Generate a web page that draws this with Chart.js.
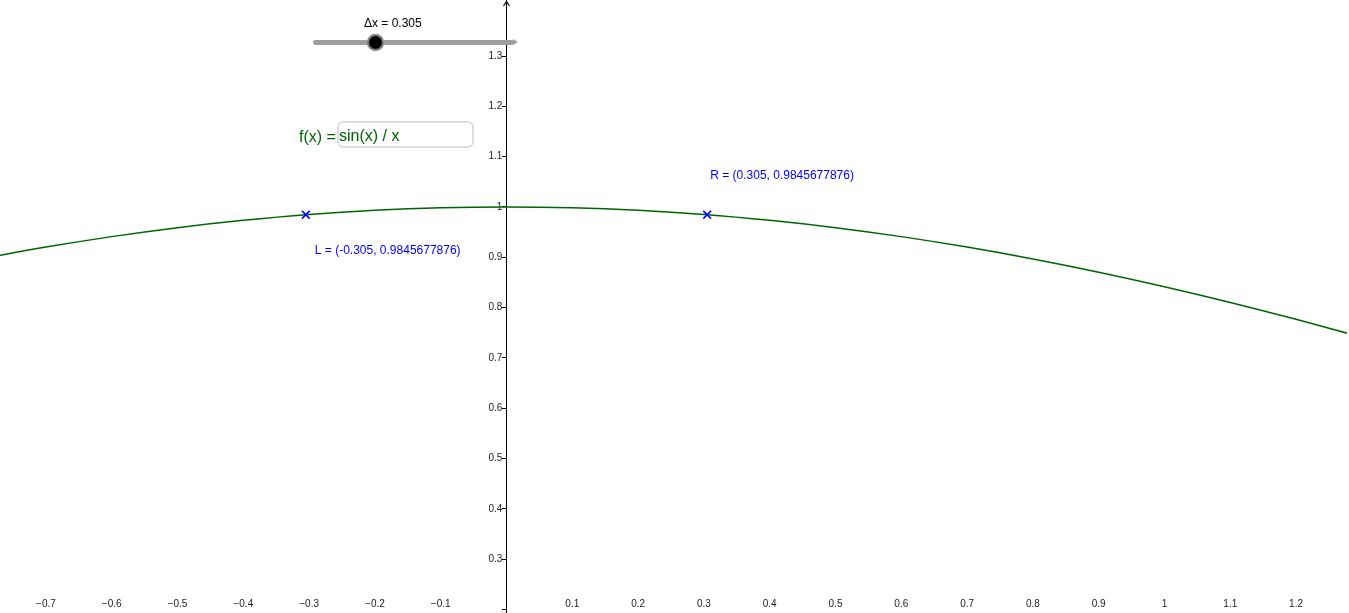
<!DOCTYPE html>
<html>
<head>
<meta charset="utf-8">
<title>f(x) = sin(x) / x</title>
<script src="https://cdn.jsdelivr.net/npm/chart.js@4"></script>
<style>
    html, body { margin: 0; padding: 0; background: #fff; overflow: hidden; }
    body { width: 1349px; height: 613px; position: relative; font-family: "Liberation Sans", Arial, sans-serif; }
    canvas { position: absolute; left: 0; top: 0; }
    .ui { position: absolute; white-space: nowrap; }
    #sliderLabel { left: 364px; top: 16px; font-size: 12px; line-height: 14px; color: #000; }
    #sliderTrack { left: 313px; top: 40px; width: 201px; height: 5px; background: #9e9e9e; border-radius: 3px; }
    #sliderTip { left: 513px; top: 39px; width: 0; height: 0; border-left: 5px solid #9e9e9e; border-top: 3.5px solid transparent; border-bottom: 3.5px solid transparent; }
    #sliderKnob { left: 366.5px; top: 33.5px; width: 13px; height: 13px; background: #000; border: 2.5px solid #808080; border-radius: 50%; box-shadow: 0 0 1px #aaa; }
    #fxLabel { left: 299px; top: 127px; font-size: 16px; line-height: 19px; color: #006400; }
    #fxBox { left: 337px; top: 121px; width: 133px; height: 23px; border: 2px solid #ddd; border-radius: 6px; font-size: 16px; line-height: 26px; color: #006400; }
</style>
</head>
<body>
<canvas id="chart" width="1347" height="613"></canvas>
<div class="ui" id="sliderLabel">Δx = 0.305</div>
<div class="ui" id="sliderTrack"></div>
<div class="ui" id="sliderTip"></div>
<div class="ui" id="sliderKnob"></div>
<div class="ui" id="fxLabel">f(x) =</div>
<div class="ui" id="fxBox">sin(x) / x</div>
<script>
const curveX = [-0.8, -0.7, -0.6, -0.5, -0.4, -0.3, -0.2, -0.1, 0, 0.1, 0.2, 0.3, 0.4, 0.5, 0.6, 0.7, 0.8, 0.9, 1, 1.1, 1.2, 1.3];
const curveY = [0.8967, 0.9203, 0.9411, 0.9589, 0.9735, 0.9851, 0.9933, 0.9983, 1, 0.9983, 0.9933, 0.9851, 0.9735, 0.9589, 0.9411, 0.9203, 0.8967, 0.8704, 0.8415, 0.8102, 0.7767, 0.7412];

const pointX = [-0.305, 0.305];
const pointY = [0.9845677876, 0.9845677876];
const pointLabels = ['L = (-0.305, 0.9845677876)', 'R = (0.305, 0.9845677876)'];

const xTicks = [-0.7, -0.6, -0.5, -0.4, -0.3, -0.2, -0.1, 0.1, 0.2, 0.3, 0.4, 0.5, 0.6, 0.7, 0.8, 0.9, 1, 1.1, 1.2];
const xTickLabels = ['−0.7', '−0.6', '−0.5', '−0.4', '−0.3', '−0.2', '−0.1', '0.1', '0.2', '0.3', '0.4', '0.5', '0.6', '0.7', '0.8', '0.9', '1', '1.1', '1.2'];
const yTicks = [0.2, 0.3, 0.4, 0.5, 0.6, 0.7, 0.8, 0.9, 1, 1.1, 1.2, 1.3];
const yTickLabels = ['', '0.3', '0.4', '0.5', '0.6', '0.7', '0.8', '0.9', '1', '1.1', '1.2', '1.3'];

const yMin = 0.1929;
const yMax = 1.4115;
const tickFont = { family: '"Liberation Sans", Arial, sans-serif', size: 10 };

// scales should not push the chart area in, the axes sit inside it
const noPadding = axis => {
    axis.paddingTop = 0;
    axis.paddingBottom = 0;
    axis.paddingLeft = 0;
    axis.paddingRight = 0;
};

// labels of L and R, and the arrow on top of the y axis
const extras = {
    id: 'extras',
    afterDraw(chart) {
        const c = chart.ctx;
        const xs = chart.scales.x, ys = chart.scales.y;
        const offsets = [[9, 39], [3, -36]];
        c.save();
        c.fillStyle = '#0000ff';
        c.font = '12px "Liberation Sans", Arial, sans-serif';
        pointLabels.forEach((txt, i) => {
            c.fillText(txt, xs.getPixelForValue(pointX[i]) + offsets[i][0], ys.getPixelForValue(pointY[i]) + offsets[i][1]);
        });
        const ax = Math.floor(xs.getPixelForValue(0)) + 0.5;
        c.strokeStyle = '#000';
        c.lineWidth = 1.2;
        c.beginPath();
        c.moveTo(ax - 3, 6);
        c.lineTo(ax, 1.5);
        c.lineTo(ax + 3, 6);
        c.stroke();
        c.restore();
    }
};

new Chart(document.getElementById('chart').getContext('2d'), {
    type: 'line',
    data: {
        datasets: [
            {
                data: curveX.map((x, i) => ({ x: x, y: curveY[i] })),
                borderColor: '#006400',
                borderWidth: 1.5,
                pointRadius: 0,
                tension: 0.4,
                fill: false,
                order: 2
            },
            {
                data: pointX.map((x, i) => ({ x: x, y: pointY[i] })),
                showLine: false,
                pointStyle: 'crossRot',
                pointRadius: 5.5,
                pointBorderColor: '#0000ff',
                pointBorderWidth: 1.5,
                order: 1
            }
        ]
    },
    options: {
        responsive: false,
        animation: false,
        layout: { padding: 0, autoPadding: false },
        plugins: { legend: { display: false }, tooltip: { enabled: false } },
        scales: {
            x: {
                type: 'linear',
                min: -0.7698,
                max: 1.2774,
                position: { y: 0.2286 },
                afterFit: noPadding,
                afterBuildTicks: axis => { axis.ticks = xTicks.map(v => ({ value: v })); },
                ticks: {
                    autoSkip: false,
                    maxRotation: 0,
                    padding: 3,
                    color: '#222',
                    font: tickFont,
                    callback: (value, i) => xTickLabels[i]
                },
                grid: { display: false, drawTicks: false },
                border: { display: false }
            },
            // tick labels only, moved a little left of the axis line
            y: {
                type: 'linear',
                min: yMin,
                max: yMax,
                position: { x: -0.0062 },
                afterFit: noPadding,
                afterBuildTicks: axis => { axis.ticks = yTicks.map(v => ({ value: v })); },
                ticks: {
                    autoSkip: false,
                    color: '#222',
                    font: tickFont,
                    callback: (value, i) => yTickLabels[i]
                },
                grid: { display: false, drawTicks: false },
                border: { display: false }
            },
            // the axis line and its tick marks
            yAxis: {
                type: 'linear',
                axis: 'y',
                min: yMin,
                max: yMax,
                position: { x: 0 },
                afterFit: noPadding,
                afterBuildTicks: axis => { axis.ticks = yTicks.map(v => ({ value: v })); },
                ticks: { display: false },
                grid: { drawOnChartArea: false, drawTicks: true, tickLength: 4, tickColor: '#000' },
                border: { display: true, color: '#000', width: 1 }
            }
        }
    },
    plugins: [extras]
});
</script>
</body>
</html>
